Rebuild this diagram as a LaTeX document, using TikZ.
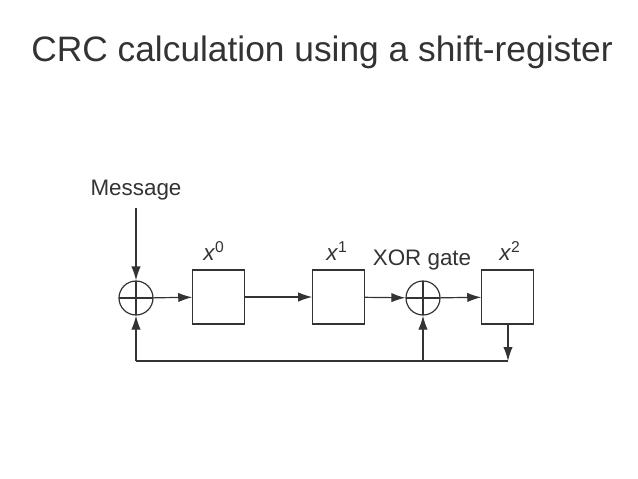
\documentclass[tikz,border=0pt]{standalone}
\usepackage{fontspec}
\setmainfont{Liberation Sans}
\usetikzlibrary{arrows.meta}
\begin{document}
\begin{tikzpicture}[x=0.75pt,y=-0.75pt,
  line width=0.9pt, draw=black!80,
  reg/.style={draw=black!80,minimum width=38.5pt,minimum height=40.5pt,inner sep=0pt},
  xorg/.style={draw=black!80,circle,minimum size=25.5pt,inner sep=0pt,path picture={\draw[black!80] (path picture bounding box.north)--(path picture bounding box.south) (path picture bounding box.west)--(path picture bounding box.east);}},
  lab/.style={font=\fontsize{16.8}{20}\selectfont,text=black!80},
  arr/.style={-{Latex[length=10.5pt,width=7pt]}}]
\useasboundingbox (0,0) rectangle (638,478);
\node[font=\fontsize{26.5}{30}\selectfont,text=black!80] (title) at (322,52) {CRC calculation using a shift-register};
\node[xorg] (g1) at (136,298) {};
\node[reg] (r0) at (218.5,297) {};
\node[reg] (r1) at (338.5,297) {};
\node[xorg] (g2) at (423,298) {};
\node[reg] (r2) at (507.5,297) {};
\node[lab] (msg) at (136,190) {Message};
\coordinate (mtop) at (136,208);
\node[lab] (l0) at (214,251) {\textit{x}\textsuperscript{0}};
\node[lab] (l1) at (337,251) {\textit{x}\textsuperscript{1}};
\node[lab] (lx) at (422,260) {XOR gate};
\node[lab] (l2) at (510,251) {\textit{x}\textsuperscript{2}};
\coordinate (bl) at (136,361);
\coordinate (bm) at (423,361);
\coordinate (br) at (508,361);
\draw[arr] (mtop) -- (g1);
\draw[arr] (g1) -- (r0);
\draw[arr] (r0) -- (r1);
\draw[arr] (r1) -- (g2);
\draw[arr] (g2) -- (r2);
\draw[arr] (r2.south -| br) -- (br);
\draw (br) -- (bl);
\draw[arr] (bl) -- (g1);
\draw[arr] (bm) -- (g2);
\end{tikzpicture}
\end{document}
